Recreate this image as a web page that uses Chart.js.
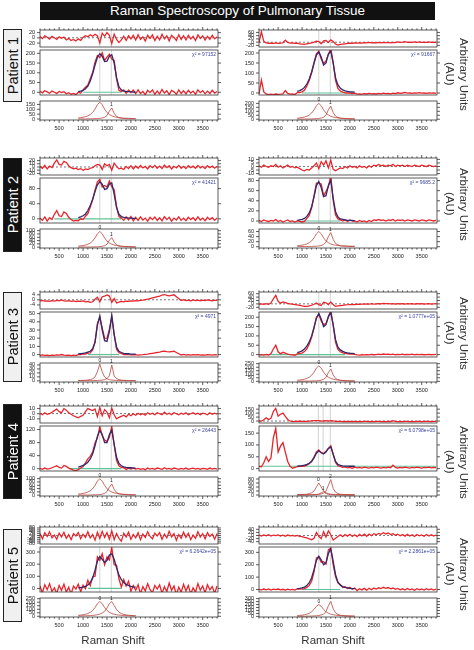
<!DOCTYPE html>
<html lang="en">
<head>
<meta charset="UTF-8">
<title>Raman Spectroscopy of Pulmonary Tissue</title>
<script src="https://cdn.jsdelivr.net/npm/chart.js"></script>
<style>
  body { margin: 0; background: #fff; font-family: "Liberation Sans", Arial, sans-serif; }
  #page { position: relative; width: 474px; height: 650px; overflow: hidden; }
  #page canvas { position: absolute; }
  .title { position: absolute; left: 40px; top: 2px; width: 395px; height: 18px; background: #111; color: #fff;
           font-size: 13.5px; line-height: 18px; text-align: center; }
  .patient { position: absolute; left: 3px; width: 17px; border: 1px solid #222; background: #f0f0f0; color: #111;
             display: flex; align-items: center; justify-content: center; font-size: 14.5px; }
  .patient span { writing-mode: vertical-rl; transform: rotate(180deg); white-space: nowrap; }
  .patient.dark { background: #111; color: #fff; }
  .au { position: absolute; left: 443px; height: 90px; writing-mode: vertical-rl; text-align: center;
        font-size: 11.5px; line-height: 14px; color: #333; white-space: nowrap; }
  .xlabel { position: absolute; top: 634px; width: 120px; text-align: center; font-size: 11.5px; color: #333; }
</style>
</head>
<body>
<div id="page">
  <div class="title">Raman Spectroscopy of Pulmonary Tissue</div>
</div>
<script>
// x grids (Raman shift, cm-1)
const RAMAN_X = [100,150,200,250,300,350,400,450,500,550,
  600,650,700,750,800,850,900,950,1000,1050,
  1100,1150,1200,1250,1300,1350,1400,1450,1500,1550,
  1600,1650,1700,1750,1800,1850,1900,1950,2000,2050,
  2100,2150,2200,2250,2300,2350,2400,2450,2500,2550,
  2600,2650,2700,2750,2800,2850,2900,2950,3000,3050,
  3100,3150,3200,3250,3300,3350,3400,3450,3500,3550,
  3600,3650,3700,3750,3800];
const FIT_X = [900,950,1000,1050,1100,1150,1200,1250,1300,1350,1400,1450,1500,
  1550,1600,1650,1700,1750,1800,1850,1900,1950,2000,2050,2100];
const X_LABELS = [500, 1000, 1500, 2000, 2500, 3000, 3500];

const PEAKS_TWO = [1350, 1590];
const PEAKS_THREE = [1340, 1440, 1590];
const CHI2 = ['97152', '91667', '41421', '9685.2', '4971', '1.0777e+05', '26443', '6.0798e+05', '6.2642e+05', '2.2861e+05'];
const BASELINE = [0, 0, 0, 0, 0, 0, 0, 10, 0, 0];
const GREEN_SPAN = [[1000,1800],[1000,1950],[400,1800],[1000,1800],[1100,1750],[100,1900],[700,1800],[100,3800],[1100,1800],[1000,1800]];
const PATIENTS = ['Patient 1', 'Patient 2', 'Patient 3', 'Patient 4', 'Patient 5'];

// Patient 1
const P1L_RESID = [5,-3,8,2,-5,6,0,-6,4,-2, 3,-8,-2,-10,-6,-12,-4,-10,2,8, 4,12,6,14,8,-20,18,6,20,10,
  -22,14,-6,-18,-8,6,-10,8,-4,10, -8,12,-6,4,-12,10,-2,12,-10,6, -8,14,-4,8,-12,10,2,-10,12,-6,
  8,-8,10,-4,6,-10,12,-2,8,-8, 6,-6,10,-4,4];
const P1L_FIT = [4,6,10,18,32,58,95,140,180,198,185,158,160,185,193,150,75,28,12,6,4,3,2,1,1];
const P1L_C0 = [11,14,18,24,32,46,67,102,147,173,147,102,67,46,32,24,18,14,11,9,8,7,6,5,4];
const P1L_C1 = [1,1,1,1,2,2,3,4,5,7,11,18,36,81,114,58,27,14,9,6,4,3,2,2,2];

const P1R_RESID = [-5,65,5,-5,-8,-6,-8,-5,-7,-6, -4,12,-2,-6,-4,-8,-6,-10,-12,-14, -10,-8,-4,0,6,4,-10,8,10,-2,
  14,4,-12,-18,-14,-12,-10,-8,-6,-8, -5,-6,-4,-6,-3,-5,-2,-4,-3,-5, -2,-4,-1,-3,-2,-4,-1,-3,1,-2,
  0,3,-1,0,-2,1,-1,2,-1,0, -2,1,-1,0,-2];
const P1R_FIT = [8,12,18,28,45,70,105,150,190,205,180,140,150,195,208,150,75,40,24,16,11,8,6,5,4];
const P1R_C0 = [13,17,21,28,37,53,78,118,170,200,170,118,78,53,37,28,21,17,13,11,9,8,7,6,5];
const P1R_C1 = [1,2,2,2,3,3,4,5,7,10,15,26,52,118,165,85,39,21,13,9,6,5,4,3,2];

// Patient 2
const P2L_RESID = [2,-4,5,-6,3,-2,12,22,8,6, 18,14,4,-2,-6,-4,-8,-5,-10,-6, -8,-4,-2,4,8,6,-8,10,4,8,
  -10,12,2,-6,-4,-8,2,-5,4,-6, 3,-4,5,-3,2,-6,4,-2,5,-4, 3,-5,6,-2,4,-6,2,-3,5,-4,
  2,-5,4,-2,3,-4,5,-3,2,-5, 4,-2,3,-4,2];
const P2L_FIT = [3,5,8,13,22,35,52,72,90,98,92,78,80,92,95,65,30,12,6,4,3,2,2,1,1];
const P2L_C0 = [6,8,10,13,18,25,37,56,81,95,81,56,37,25,18,13,10,8,6,5,4,4,3,3,2];
const P2L_C1 = [0,1,1,1,1,1,1,2,2,4,5,9,18,42,58,30,14,7,5,3,2,2,1,1,1];

const P2R_RESID = [1,-1,2,0,-1,1,0,3,-1,1, -2,0,2,-1,0,-2,-1,-3,-5,-6, -4,-5,-2,1,5,-3,7,2,8,-2,
  9,-4,-6,-4,-2,-3,0,-2,1,-1, 0,-2,1,-1,0,-2,1,-1,2,1, 3,1,2,0,2,1,3,0,2,1,
  2,0,2,1,0,2,1,0,2,1, 0,2,1,0,1];
const P2R_FIT = [1,2,3,5,9,16,28,48,70,78,66,48,50,70,80,45,18,8,4,3,2,1,1,1,0];
const P2R_C0 = [4,5,6,8,11,16,23,35,51,60,51,35,23,16,11,8,6,5,4,3,3,2,2,2,2];
const P2R_C1 = [0,1,1,1,1,1,1,2,2,3,5,9,18,40,56,29,13,7,4,3,2,2,1,1,1];

// Patient 3
const P3L_RESID = [-1,-0.5,-1,-0.8,-1.2,-0.6,-1,-0.5,-0.8,0, -0.8,-1,-0.6,-1.2,-0.8,-1.4,-1,-1.2,-0.8,-1.5,
  -1.2,-2,-1.5,0.5,2,-1.5,2.5,3,3.8,3, -2,1,-2.5,-1.8,-1.2,-1.6,-1,-1.2,-0.8,-1,
  -0.6,-0.8,-0.4,-0.2,0.2,0.5,1,1.5,2,2.5, 3,3.8,4.2,3.5,3.2,3.6,4,2.5,1,-0.5,
  0.2,-0.6,-0.2,-0.8,0,-0.5,-0.2,-0.8,-0.3,-0.6, 0,-0.4,-0.8,-0.2,-0.5];
const P3L_FIT = [1,1,1.5,2,3,4,7,15,36,47,30,17,16,28,48,24,9,4,2.5,1.5,1,1,0.5,0.5,0.5];
const P3L_C0 = [0.6,0.8,1,1.4,1.9,2.9,5,9.7,23,42,23,9.7,5,2.9,1.9,1.4,1,0.8,0.6,0.5,0.4,0.3,0.3,0.3,0.2];
const P3L_C1 = [0.2,0.2,0.2,0.3,0.3,0.4,0.5,0.6,0.9,1.2,1.8,3,5.8,12.4,40,12.4,5.8,3,1.8,1.2,0.9,0.6,0.5,0.4,0.3];

const P3R_RESID = [-2,0,-3,1,-2,5,30,50,15,4, 12,8,3,0,-2,-4,-6,-8,-12,-14, -15,-12,-8,-2,5,-4,-10,10,6,-5,
  12,-4,-15,-12,-10,-8,-6,-5,-4,-3, -4,-2,-3,-1,-2,0,-2,1,-1,0, 2,0,3,1,2,0,2,-1,1,0,
  2,-1,1,0,2,-1,1,0,1,-1, 0,1,-1,0,1];
const P3R_FIT = [10,14,20,30,45,68,100,145,195,220,190,150,160,205,225,160,80,40,25,17,12,9,7,6,5];
const P3R_C0 = [15,18,23,30,41,58,86,130,187,220,187,130,86,58,41,30,23,18,15,12,10,8,7,6,6];
const P3R_C1 = [1,2,2,2,3,3,4,5,7,11,16,28,55,125,175,90,41,22,14,9,6,5,4,3,2];

// Patient 4
const P4L_RESID = [1,-2,2,-1,0,3,6,9,4,2, 10,7,2,-1,-4,-6,-8,-5,-3,4, 10,8,6,9,-6,12,-4,8,3,-8,
  11,-2,-10,-7,-5,-3,-6,-1,-4,0, -3,1,-2,0,-3,2,-1,1,-2,2, 0,-2,3,-1,1,-2,2,0,-2,1,
  -1,2,-2,0,2,-1,1,-2,1,0, -2,2,-1,1,-1];
const P4L_FIT = [5,7,10,14,20,30,45,70,100,117,105,80,80,105,118,75,35,16,9,6,4,3,3,2,2];
const P4L_C0 = [7,8,11,14,19,27,39,59,85,100,85,59,39,27,19,14,11,8,7,5,5,4,3,3,3];
const P4L_C1 = [1,1,1,1,1,1,2,2,3,4,6,11,22,48,68,35,16,9,5,4,3,2,1,1,1];

const P4R_RESID = [0,-2,15,40,20,35,120,160,60,85, 100,60,20,0,-8,-5,-3,-2,-3,-4, -3,0,2,4,6,4,-2,2,4,0,
  4,2,-4,-6,-5,-7,-4,-8,-5,-9, -4,-7,-5,-8,-4,-6,-8,-5,-7,-4, -6,-8,-5,-7,-4,-6,5,-5,-8,-5,
  -7,-4,-6,-8,-5,-7,-4,-6,-8,-5, -6,-4,-7,-5,-6];
const P4R_FIT = [11,12,13,15,18,22,30,45,65,75,68,62,70,85,92,60,30,18,14,12,11,11,10,10,10];
const P4R_C0 = [1,2,2,3,4,7,11,20,40,60,40,20,11,7,4,3,2,2,1,1,1,1,1,1,1];
const P4R_C1 = [0.2,0.2,0.2,0.3,0.4,0.5,0.8,1.2,2,4.2,11,17,7.4,3.1,1.6,1,0.6,0.5,0.3,0.3,0.2,0.2,0.1,0.1,0.1];
const P4R_C2 = [0.4,0.5,0.6,0.7,0.8,1,1.3,1.7,2.3,3.3,5.2,9,19,49,77,33,14,7,4.3,2.9,2,1.5,1.2,0.9,0.8];

// Patient 5
const P5L_RESID = [20,-35,30,-10,40,-25,5,-40,25,-15, 35,-30,10,-45,20,-5,30,-35,15,-20, 40,-25,10,-50,35,-30,45,-20,30,-40,
  50,-45,20,-30,-60,25,-15,35,-40,10, -25,30,-45,15,-20,40,-10,-35,25,-5, 30,-40,15,-25,45,-15,20,-50,10,-30,
  35,-20,25,-45,5,-30,40,-15,20,-35, 30,-10,15,-40,20];
const P5L_FIT = [5,8,12,18,28,48,85,150,225,262,240,215,230,275,285,240,170,110,72,48,34,25,18,14,11];
const P5L_C0 = [14,17,22,29,39,56,82,124,179,210,179,124,82,56,39,29,22,17,14,11,9,8,7,6,5];
const P5L_C1 = [4,5,6,7,8,10,13,17,22,31,46,71,116,181,208,154,95,59,39,27,20,15,12,9,8];

const P5R_RESID = [2,-3,4,-2,5,-4,3,-1,4,-3, 2,-5,3,-2,1,-4,0,-6,-8,-12, -15,-22,-28,-18,20,-5,-20,25,-10,30,
  5,-30,-18,-6,4,-8,6,-4,8,-6, 5,-8,7,-3,9,-5,10,-2,12,4, 14,8,18,10,16,6,12,2,9,-2,
  6,-4,8,-3,5,-6,7,-2,4,-5, 6,-3,5,-4,3];
const P5R_FIT = [6,9,13,20,32,55,95,160,235,268,240,200,215,290,328,230,120,60,35,24,17,13,10,8,7];
const P5R_C0 = [13,17,21,28,37,53,78,118,170,200,170,118,78,53,37,28,21,17,13,11,9,8,7,6,5];
const P5R_C1 = [2,2,3,3,4,5,6,8,11,15,24,40,80,180,253,130,60,32,20,13,9,7,5,4,4];

// panels in reading order: row by row, left then right
const PANELS = [
  {resid: P1L_RESID, fit: P1L_FIT, comps: [P1L_C0, P1L_C1], peaks: PEAKS_TWO},
  {resid: P1R_RESID, fit: P1R_FIT, comps: [P1R_C0, P1R_C1], peaks: PEAKS_TWO},
  {resid: P2L_RESID, fit: P2L_FIT, comps: [P2L_C0, P2L_C1], peaks: PEAKS_TWO},
  {resid: P2R_RESID, fit: P2R_FIT, comps: [P2R_C0, P2R_C1], peaks: PEAKS_TWO},
  {resid: P3L_RESID, fit: P3L_FIT, comps: [P3L_C0, P3L_C1], peaks: PEAKS_TWO},
  {resid: P3R_RESID, fit: P3R_FIT, comps: [P3R_C0, P3R_C1], peaks: PEAKS_TWO},
  {resid: P4L_RESID, fit: P4L_FIT, comps: [P4L_C0, P4L_C1], peaks: PEAKS_TWO},
  {resid: P4R_RESID, fit: P4R_FIT, comps: [P4R_C0, P4R_C1, P4R_C2], peaks: PEAKS_THREE},
  {resid: P5L_RESID, fit: P5L_FIT, comps: [P5L_C0, P5L_C1], peaks: PEAKS_TWO},
  {resid: P5R_RESID, fit: P5R_FIT, comps: [P5R_C0, P5R_C1], peaks: PEAKS_TWO}
];

// axis ranges [min, max, step] for residual / spectrum / components
const AXES = [
  {res: [-35, 30, 20],   main: [-14, 217, 50],  comp: [-10, 185, 50]},
  {res: [-30, 75, 20],   main: [-10, 215, 50],  comp: [-10, 230, 50]},
  {res: [-25, 28, 10],   main: [-11, 108, 40],  comp: [-5, 110, 20]},
  {res: [-12, 12, 5],    main: [-4, 85, 20],    comp: [-5, 70, 20]},
  {res: [-7.2, 6.2, 4],  main: [-3, 52, 10],    comp: [-3, 45, 10]},
  {res: [-30, 70, 20],   main: [-13, 228, 50],  comp: [-10, 260, 50]},
  {res: [-18, 15, 10],   main: [-7, 131, 40],   comp: [-5, 110, 20]},
  {res: [-25, 190, 50],  main: [-10, 180, 50],  comp: [-5, 90, 20]},
  {res: [-90, 90, 20],   main: [-29, 341, 100], comp: [-10, 260, 50]},
  {res: [-55, 55, 20],   main: [-20, 343, 100], comp: [-10, 310, 50]}
];

// layout
const COL_LEFT = [40, 259];
const ROW_TOP = [30, 158, 292, 406, 527];
const PLOT_W = 178;
const BOXES = [[29, 71], [158, 92], [292, 88], [404, 93], [529, 91]];
const AU_CENTER = [74, 204, 333, 462, 574];

Chart.defaults.font.family = '"Liberation Sans", Arial, sans-serif';
Chart.defaults.color = '#222';

const framePlugin = {
  id: 'frame',
  beforeDatasetsDraw(chart, args, o) {
    if (!o.peakLines) return;
    const {ctx, chartArea: a, scales: {x}} = chart;
    ctx.save();
    ctx.strokeStyle = '#b5b5b5';
    ctx.lineWidth = 0.6;
    ctx.beginPath();
    o.peakLines.forEach(p => {
      const px = x.getPixelForValue(p);
      ctx.moveTo(px, a.top);
      ctx.lineTo(px, a.bottom);
    });
    ctx.stroke();
    ctx.restore();
  },
  afterDraw(chart, args, o) {
    const {ctx, chartArea: a, scales: {x, y}} = chart;
    ctx.save();
    ctx.strokeStyle = '#333';
    ctx.lineWidth = 0.8;
    ctx.strokeRect(a.left, a.top, a.right - a.left, a.bottom - a.top);
    ctx.beginPath();
    y.ticks.forEach(t => {
      const py = y.getPixelForValue(t.value);
      ctx.moveTo(a.left - 3, py); ctx.lineTo(a.left, py);
      ctx.moveTo(a.right, py); ctx.lineTo(a.right + 3, py);
    });
    for (let v = 100; v <= 3800; v += 100) {
      const px = x.getPixelForValue(v);
      const len = v % 500 === 0 ? 3 : 1.6;
      if (o.topTicks) { ctx.moveTo(px, a.top - len); ctx.lineTo(px, a.top); }
      if (o.bottomTicks) { ctx.moveTo(px, a.bottom); ctx.lineTo(px, a.bottom + len); }
    }
    ctx.stroke();
    if (o.chi) {
      ctx.fillStyle = '#3b47a5';
      ctx.font = '5px "Liberation Sans", Arial, sans-serif';
      ctx.textAlign = 'right';
      ctx.fillText('\u03C7\u00B2 = ' + o.chi, a.right - 2, a.top + 6);
    }
    if (o.labels) {
      ctx.fillStyle = '#222';
      ctx.font = '5px "Liberation Sans", Arial, sans-serif';
      ctx.textAlign = 'center';
      o.labels.forEach((l, i) => {
        ctx.fillText(String(i), x.getPixelForValue(l.x), y.getPixelForValue(l.y) - 2);
      });
    }
    ctx.restore();
  }
};

const page = document.getElementById('page');

function stepTicks(min, max, step) {
  const t = [];
  for (let v = Math.ceil(min / step) * step; v <= max + 1e-9; v += step) t.push({value: Math.round(v * 100) / 100});
  return t;
}

function addChart(left, top, height, padTop, showX, datasets, yr, frame) {
  const c = document.createElement('canvas');
  const w = PLOT_W + 26;
  const h = padTop + height + (showX ? 12 : 3);
  c.width = w; c.height = h;
  c.style.left = (left - 20) + 'px';
  c.style.top = (top - padTop) + 'px';
  c.style.width = w + 'px';
  c.style.height = h + 'px';
  page.appendChild(c);
  new Chart(c, {
    type: 'line',
    data: {datasets},
    plugins: [framePlugin],
    options: {
      responsive: false,
      animation: false,
      devicePixelRatio: 1,
      layout: {padding: {left: 0, right: 6, top: padTop, bottom: showX ? 0 : 3}},
      plugins: {legend: {display: false}, tooltip: {enabled: false}, frame},
      elements: {point: {radius: 0}, line: {tension: 0}},
      scales: {
        x: {
          type: 'linear', min: 100, max: 3820, display: showX,
          grid: {display: false, drawTicks: false}, border: {display: false},
          ticks: {autoSkip: false, maxRotation: 0, padding: 5, font: {size: 5.5}, callback: v => String(v)},
          afterBuildTicks: s => { s.ticks = X_LABELS.map(v => ({value: v})); },
          afterFit: s => { if (showX) s.height = 12; s.paddingLeft = 0; s.paddingRight = 0; }
        },
        y: {
          type: 'linear', min: yr[0], max: yr[1],
          grid: {display: false, drawTicks: false}, border: {display: false},
          ticks: {autoSkip: false, padding: 5, font: {size: 5.5}, callback: v => String(v)},
          afterBuildTicks: s => { s.ticks = stepTicks(yr[0], yr[1], yr[2]); },
          afterFit: s => { s.width = 20; s.paddingTop = 0; s.paddingBottom = 0; }
        }
      }
    }
  });
}

const pts = (xs, ys) => xs.map((x, i) => ({x, y: ys[i]}));
const line = (data, color, width, order, extra) =>
  Object.assign({data, borderColor: color, borderWidth: width, order, clip: 0, fill: false}, extra || {});

PANELS.forEach((p, k) => {
  const row = Math.floor(k / 2), col = k % 2;
  const left = COL_LEFT[col], top = ROW_TOP[row];
  const ax = AXES[k];
  const base = BASELINE[k];
  const spectrum = RAMAN_X.map((x, i) => {
    const j = FIT_X.indexOf(x);
    return {x, y: p.resid[i] + (j >= 0 ? p.fit[j] : base)};
  });

  // residual
  addChart(left, top, 17, 3, false, [
    line(pts(RAMAN_X, p.resid), '#e8242b', 1.25, 1),
    line([{x: 100, y: 0}, {x: 3820, y: 0}], '#222', 0.6, 2, {borderDash: [2, 2]})
  ], ax.res, {topTicks: true, peakLines: p.peaks});

  // spectrum with fit
  addChart(left, top + 20, 45, 3, false, [
    line(pts(FIT_X, p.fit), '#35286b', 1.3, 0),
    line(spectrum, '#e8242b', 1.3, 1),
    line([{x: GREEN_SPAN[k][0], y: base}, {x: GREEN_SPAN[k][1], y: base}], '#5fc297', 1.2, 2)
  ], ax.main, {peakLines: p.peaks, chi: CHI2[k]});

  // fitted components
  addChart(left, top + 71, 19, 7, true,
    p.comps.map(c => line(pts(FIT_X, c), '#b8453c', 0.8, 0)),
    ax.comp, {bottomTicks: true, labels: p.peaks.map((x, i) => ({x, y: Math.max(...p.comps[i])}))});
});

PATIENTS.forEach((name, r) => {
  const d = document.createElement('div');
  d.className = 'patient' + (r % 2 === 1 ? ' dark' : '');
  d.style.top = BOXES[r][0] + 'px';
  d.style.height = BOXES[r][1] + 'px';
  d.innerHTML = '<span>' + name + '</span>';
  page.appendChild(d);

  const au = document.createElement('div');
  au.className = 'au';
  au.style.top = (AU_CENTER[r] - 45) + 'px';
  au.innerHTML = 'Arbitrary Units<br>(AU)';
  page.appendChild(au);
});

[113, 333].forEach(cx => {
  const d = document.createElement('div');
  d.className = 'xlabel';
  d.style.left = (cx - 60) + 'px';
  d.textContent = 'Raman Shift';
  page.appendChild(d);
});
</script>
</body>
</html>
